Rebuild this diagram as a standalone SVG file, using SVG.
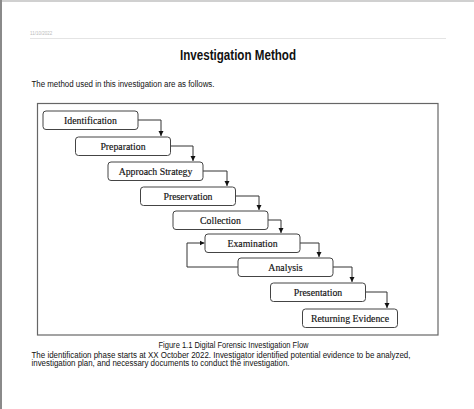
<svg xmlns="http://www.w3.org/2000/svg" width="474" height="409" viewBox="0 0 474 409">
<defs>
<style>
.box{fill:#fff;stroke:#444;stroke-width:1}
.lbl{font-family:"Liberation Serif","Times New Roman",serif;font-size:9.8px;fill:#111;text-anchor:middle;stroke:#111;stroke-width:0.15}
.con{fill:none;stroke:#333;stroke-width:1}
.sans{font-family:"Liberation Sans",Arial,sans-serif;fill:#111}
</style>
<marker id="ah" markerWidth="6" markerHeight="6" refX="5" refY="3" orient="auto" markerUnits="userSpaceOnUse">
<path d="M0,0.5 L5,3 L0,5.5 Z" fill="#111"/>
</marker>
</defs>
<rect x="0" y="0" width="474" height="409" fill="#fff"/>
<rect x="0" y="0" width="474" height="2" fill="#d0d0d0"/>
<rect x="0" y="0" width="2" height="409" fill="#8a8a8a"/>
<text x="30" y="35" class="sans" font-size="4.5" style="fill:#bbb">11/10/2022</text>
<line x1="30" y1="38.5" x2="446" y2="38.5" stroke="#ddd" stroke-width="0.8"/>
<text x="238" y="60" class="sans" font-size="14.5" font-weight="bold" text-anchor="middle" textLength="116" lengthAdjust="spacingAndGlyphs">Investigation Method</text>
<text x="31.5" y="86.5" class="sans" font-size="8.3" textLength="183" lengthAdjust="spacingAndGlyphs">The method used in this investigation are as follows.</text>
<rect x="37.5" y="103.5" width="400.5" height="231.5" fill="none" stroke="#666" stroke-width="1.2"/>
<g id="connectors">
<path class="con" d="M138,120 H161 V136" marker-end="url(#ah)"/>
<path class="con" d="M170.5,146 H193 V161" marker-end="url(#ah)"/>
<path class="con" d="M203,171 H227 V186" marker-end="url(#ah)"/>
<path class="con" d="M235.5,196 H259 V210" marker-end="url(#ah)"/>
<path class="con" d="M268,220 H281 V233" marker-end="url(#ah)"/>
<path class="con" d="M300,243 H319 V257" marker-end="url(#ah)"/>
<path class="con" d="M333,267 H352 V282" marker-end="url(#ah)"/>
<path class="con" d="M365.5,292 H387 V308" marker-end="url(#ah)"/>
<path class="con" d="M238,267 H187 V243 H204.5" marker-end="url(#ah)"/>
</g>
<g id="n-identification"><rect class="box" x="43" y="111" width="95" height="18.5" rx="3"/><text class="lbl" x="90.5" y="123.5">Identification</text></g>
<g id="n-preparation"><rect class="box" x="75.5" y="137" width="95" height="18.5" rx="3"/><text class="lbl" x="123" y="149.5">Preparation</text></g>
<g id="n-approach"><rect class="box" x="108" y="162" width="95" height="18.5" rx="3"/><text class="lbl" x="155.5" y="174.5">Approach Strategy</text></g>
<g id="n-preservation"><rect class="box" x="140.5" y="187" width="95" height="18.5" rx="3"/><text class="lbl" x="188" y="199.5">Preservation</text></g>
<g id="n-collection"><rect class="box" x="173" y="211" width="95" height="18.5" rx="3"/><text class="lbl" x="220.5" y="223.5">Collection</text></g>
<g id="n-examination"><rect class="box" x="205" y="234" width="95" height="18.5" rx="3"/><text class="lbl" x="252.5" y="246.5">Examination</text></g>
<g id="n-analysis"><rect class="box" x="238" y="258" width="95" height="18.5" rx="3"/><text class="lbl" x="285.5" y="270.5">Analysis</text></g>
<g id="n-presentation"><rect class="box" x="270.5" y="283" width="95" height="18.5" rx="3"/><text class="lbl" x="318" y="295.5">Presentation</text></g>
<g id="n-returning"><rect class="box" x="302.5" y="309" width="95" height="18.5" rx="3"/><text class="lbl" x="350" y="321.5">Returning Evidence</text></g>
<text x="233.5" y="347.5" class="sans" font-size="8.3" text-anchor="middle" textLength="150" lengthAdjust="spacingAndGlyphs">Figure 1.1 Digital Forensic Investigation Flow</text>
<text x="31.5" y="357.5" class="sans" font-size="8.3" textLength="379" lengthAdjust="spacingAndGlyphs">The identification phase starts at XX October 2022. Investigator identified potential evidence to be analyzed,</text>
<text x="31.5" y="366" class="sans" font-size="8.3" textLength="258" lengthAdjust="spacingAndGlyphs">investigation plan, and necessary documents to conduct the investigation.</text>
</svg>
